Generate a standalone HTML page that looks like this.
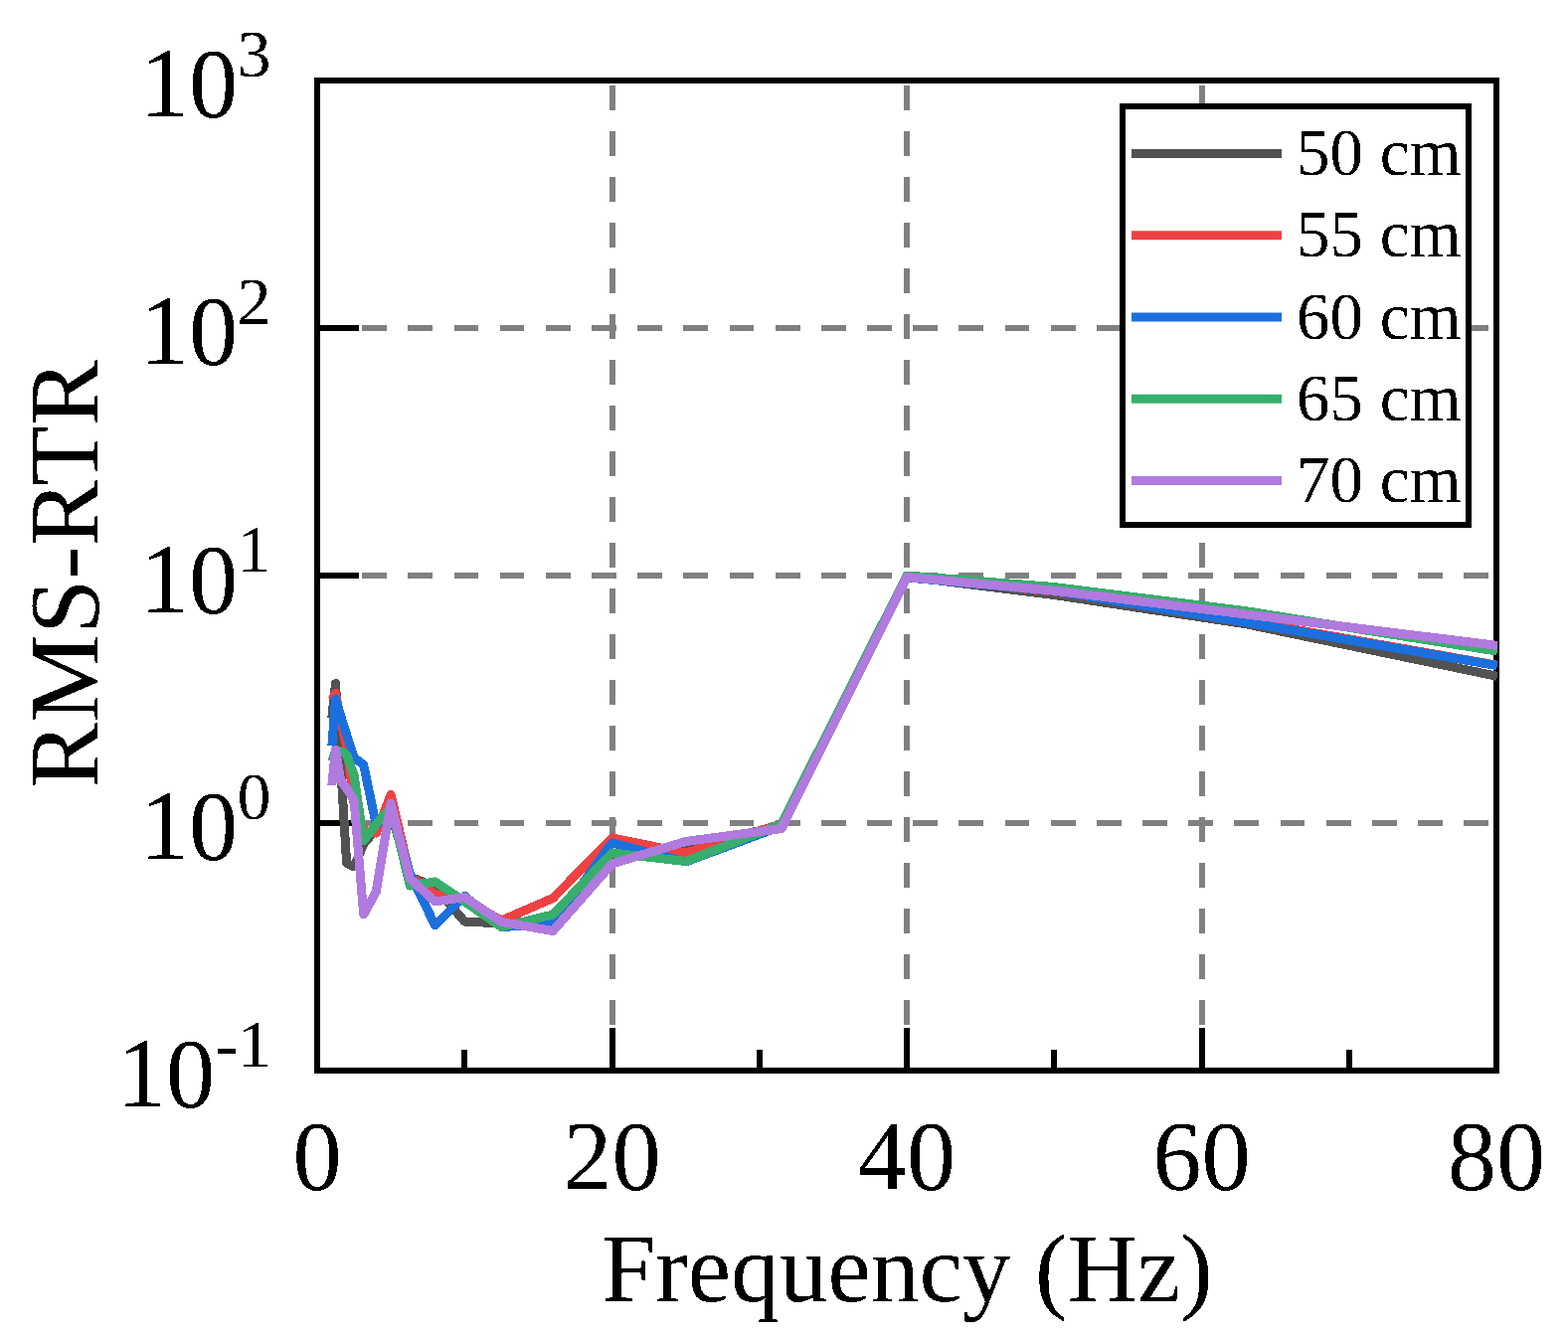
<!DOCTYPE html><html><head><meta charset="utf-8"><title>RMS-RTR vs Frequency</title><style>html,body{margin:0;padding:0;background:#fff;}svg{display:block;}text{font-family:"Liberation Serif","Times New Roman",serif;fill:#000;}</style></head><body>
<svg width="1577" height="1346" viewBox="0 0 1577 1346">
<defs><filter id="al" x="0" y="0" width="1577" height="1346" filterUnits="userSpaceOnUse"><feComponentTransfer><feFuncA type="discrete" tableValues="0 1"/></feComponentTransfer></filter></defs>
<rect x="0" y="0" width="1577" height="1346" fill="#fff"/>
<g stroke="#808080" stroke-width="6" fill="none" shape-rendering="crispEdges">
<path d="M318 330H1505" stroke-dasharray="24.8 21.37"/>
<path d="M318 579H1505" stroke-dasharray="24.8 21.37"/>
<path d="M318 828H1505" stroke-dasharray="24.8 21.37"/>
<path d="M615.50 1077V81" stroke-dasharray="24.8 21.2"/>
<path d="M912.00 1077V81" stroke-dasharray="24.8 21.2"/>
<path d="M1208.50 1077V81" stroke-dasharray="24.8 21.2"/>
</g>
<g fill="#000" shape-rendering="crispEdges">
<rect x="319" y="78" width="42" height="6"/>
<rect x="319" y="327" width="42" height="6"/>
<rect x="319" y="576" width="42" height="6"/>
<rect x="319" y="825" width="42" height="6"/>
<rect x="319" y="1074" width="42" height="6"/>
<rect x="316.00" y="1034" width="6" height="43"/>
<rect x="612.50" y="1034" width="6" height="43"/>
<rect x="909.00" y="1034" width="6" height="43"/>
<rect x="1205.50" y="1034" width="6" height="43"/>
<rect x="1502.00" y="1034" width="6" height="43"/>
<rect x="464.25" y="1056" width="6" height="21"/>
<rect x="760.75" y="1056" width="6" height="21"/>
<rect x="1057.25" y="1056" width="6" height="21"/>
<rect x="1353.75" y="1056" width="6" height="21"/>
</g>
<rect x="319" y="81" width="1186" height="996" fill="none" stroke="#000" stroke-width="6"/>
<g fill="none" stroke-width="9" stroke-linejoin="round" stroke-linecap="butt" shape-rendering="crispEdges">
<polyline stroke="#525252" points="333.8,722 337.5,687.5 342.7,771 348.6,868 356.1,872 365.7,849 378.3,834 393.1,818 412.4,882 437.6,892 467.2,927 504.3,929 556.2,925 615.5,866 689.6,849 786.0,832 912.0,580 1060.2,598.5 1253.0,627.75 1505.8,680.3"/>
<polyline stroke="#ef4141" points="333.8,704 337.5,697.5 342.7,725 348.6,750 356.1,808 365.7,835 378.3,838 393.1,799.5 412.4,881 437.6,899.5 467.2,905 504.3,926 556.2,903.5 615.5,843 689.6,858 786.0,829 912.0,580 1060.2,595 1253.0,624.5 1505.8,669.2"/>
<polyline stroke="#1b70de" points="333.8,750.5 337.5,703 342.7,720 348.6,739 356.1,762 365.7,769.5 378.3,830 393.1,812 412.4,879 437.6,931 467.2,901.3 504.3,932.5 556.2,929.5 615.5,848 689.6,867 786.0,831 912.0,581 1060.2,594.5 1253.0,626 1505.8,669.6"/>
<polyline stroke="#38ae6c" points="333.8,766 337.5,755 342.7,756 348.6,759 356.1,780 365.7,846 378.3,829 393.1,812 412.4,891 437.6,887 467.2,907 504.3,932.5 556.2,920 615.5,858 689.6,866.5 786.0,829 912.0,579 1060.2,590.5 1253.0,614.7 1505.8,655.1"/>
<polyline stroke="#b07adf" points="333.8,790 337.5,754.5 342.7,785 348.6,793 356.1,805 365.7,920 378.3,897 393.1,808 412.4,884 437.6,907 467.2,902.5 504.3,927.5 556.2,936.5 615.5,869 689.6,846.5 786.0,833.5 912.0,580.5 1060.2,594.2 1253.0,618 1505.8,649.4"/>
</g>
<rect x="1129" y="107" width="348" height="421" fill="#fff" stroke="#000" stroke-width="6"/>
<rect x="1138" y="150.00" width="151" height="9" fill="#525252"/>
<text x="1303.9" y="176.00" font-size="67" filter="url(#al)">50 cm</text>
<rect x="1138" y="232.25" width="151" height="9" fill="#ef4141"/>
<text x="1303.9" y="258.25" font-size="67" filter="url(#al)">55 cm</text>
<rect x="1138" y="314.50" width="151" height="9" fill="#1b70de"/>
<text x="1303.9" y="340.50" font-size="67" filter="url(#al)">60 cm</text>
<rect x="1138" y="396.75" width="151" height="9" fill="#38ae6c"/>
<text x="1303.9" y="422.75" font-size="67" filter="url(#al)">65 cm</text>
<rect x="1138" y="479.00" width="151" height="9" fill="#b07adf"/>
<text x="1303.9" y="505.00" font-size="67" filter="url(#al)">70 cm</text>
<g filter="url(#al)">
<text x="140.65" y="117" font-size="98.5">10</text>
<text x="238.5" y="77" font-size="68">3</text>
<text x="140.65" y="366" font-size="98.5">10</text>
<text x="238.5" y="326" font-size="68">2</text>
<text x="140.65" y="616" font-size="98.5">10</text>
<text x="238.5" y="575" font-size="68">1</text>
<text x="140.65" y="863.5" font-size="98.5">10</text>
<text x="238.5" y="823.7" font-size="68">0</text>
<text x="117.85" y="1113" font-size="98.5">10</text>
<text x="216.5" y="1073" font-size="68">-1</text>
<text x="319.00" y="1196.3" font-size="98.5" text-anchor="middle">0</text>
<text x="615.50" y="1196.3" font-size="98.5" text-anchor="middle">20</text>
<text x="912.00" y="1196.3" font-size="98.5" text-anchor="middle">40</text>
<text x="1208.50" y="1196.3" font-size="98.5" text-anchor="middle">60</text>
<text x="1505.00" y="1196.3" font-size="98.5" text-anchor="middle">80</text>
<text x="912.4" y="1308.5" font-size="97.5" text-anchor="middle">Frequency (Hz)</text>
<text transform="translate(97.9 577.4) rotate(-90)" x="0" y="0" font-size="99.6" text-anchor="middle">RMS-RTR</text>
</g>
</svg></body></html>
